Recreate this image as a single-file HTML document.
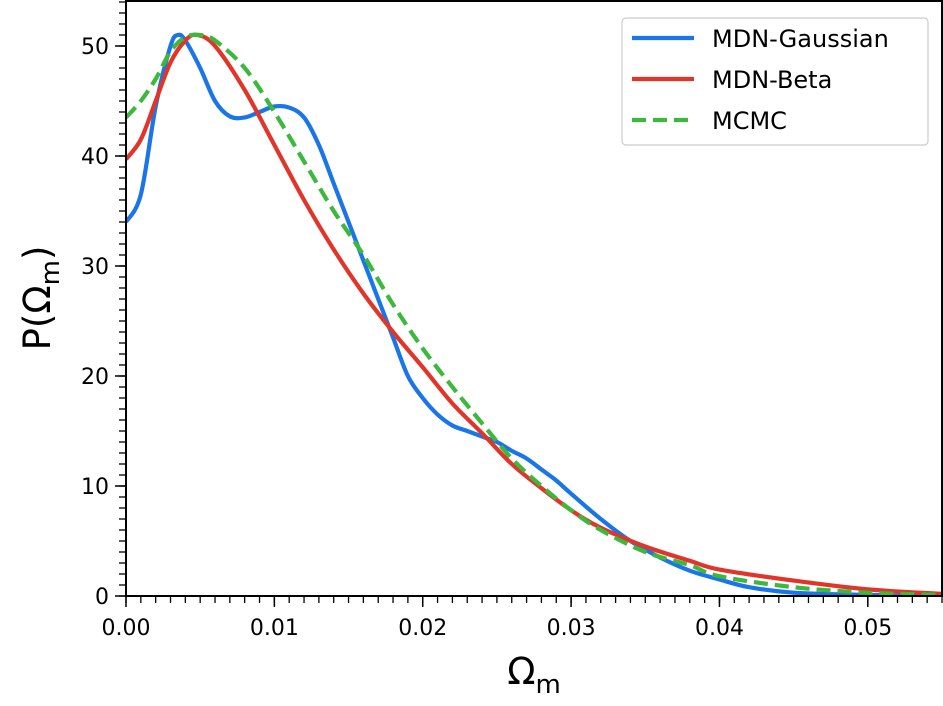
<!DOCTYPE html>
<html><head><meta charset="utf-8"><style>
html,body{margin:0;padding:0;background:#fff;}
svg{display:block;font-family:"DejaVu Sans","Liberation Sans",sans-serif;}
</style></head><body>
<svg id="chart" width="943" height="706"></svg>
<script>
const xGauss=[0,0.001,0.002,0.003,0.0035,0.004,0.005,0.006,0.007,0.008,0.009,0.010,0.011,0.012,0.013,0.014,0.015,0.016,0.017,0.018,0.019,0.020,0.021,0.022,0.023,0.024,0.025,0.026,0.027,0.028,0.029,0.030,0.032,0.034,0.036,0.038,0.040,0.042,0.045,0.050,0.055];
const yGauss=[34,36.5,44.5,50,51,50.5,48,45,43.6,43.5,44,44.5,44.4,43.5,41,37.5,34,30.5,27,23.5,20,18,16.5,15.5,15,14.5,14,13.2,12.5,11.5,10.5,9.3,7,5,3.5,2.3,1.5,0.8,0.3,0.1,0];
const xBeta=[0,0.001,0.002,0.003,0.004,0.0048,0.006,0.008,0.010,0.012,0.014,0.016,0.018,0.020,0.022,0.024,0.026,0.028,0.030,0.032,0.035,0.038,0.040,0.045,0.050,0.055];
const yBeta=[39.7,41.5,45,48.5,50.5,51,50,46,41,36,31.5,27.5,24,20.8,17.5,14.8,12,9.8,7.8,6.2,4.5,3.2,2.4,1.4,0.6,0.2];
const xMcmc=[0,0.001,0.002,0.003,0.004,0.005,0.006,0.008,0.010,0.012,0.014,0.016,0.018,0.020,0.022,0.024,0.026,0.028,0.030,0.032,0.035,0.038,0.040,0.045,0.050,0.055];
const yMcmc=[43.5,45,47,49.5,50.8,51,50.5,48,44,39.5,35,31,26.5,22.5,19,15.7,12.5,10,7.8,6,4,2.8,1.8,0.8,0.3,0.1];
const xTicks=[0,0.01,0.02,0.03,0.04,0.05];
const xTickLabels=["0.00","0.01","0.02","0.03","0.04","0.05"];
const yTicks=[0,10,20,30,40,50];
const yTickLabels=["0","10","20","30","40","50"];

const L=126,R=942,T=1,B=596,XMAX=0.055,YMAX=54.09;
const sx=v=>L+v/XMAX*(R-L);
const sy=v=>B-v/YMAX*(B-T);
const svg=document.getElementById('chart');
const NS='http://www.w3.org/2000/svg';
function mk(tag,attrs){const e=document.createElementNS(NS,tag);for(const k in attrs)e.setAttribute(k,attrs[k]);svg.appendChild(e);return e;}
function pathFor(xs,ys){
  const p=xs.map((x,i)=>[sx(x),sy(ys[i])]);
  let d='M'+p[0][0]+','+p[0][1];
  for(let i=0;i<p.length-1;i++){
    const p0=p[Math.max(0,i-1)],p1=p[i],p2=p[i+1],p3=p[Math.min(p.length-1,i+2)];
    const c1=[p1[0]+(p2[0]-p0[0])/6,p1[1]+(p2[1]-p0[1])/6];
    const c2=[p2[0]-(p3[0]-p1[0])/6,p2[1]-(p3[1]-p1[1])/6];
    d+=' C'+c1[0]+','+c1[1]+' '+c2[0]+','+c2[1]+' '+p2[0]+','+p2[1];
  }
  return d;
}
const defs=mk('defs',{});
const cp=document.createElementNS(NS,'clipPath');cp.setAttribute('id','clip');
const cr=document.createElementNS(NS,'rect');cr.setAttribute('x',L);cr.setAttribute('y',T);cr.setAttribute('width',R-L);cr.setAttribute('height',B-T);
cp.appendChild(cr);defs.appendChild(cp);

for(let v=0;v<=XMAX+1e-9;v+=0.001){const x=sx(v);const t=mk('line',{x1:x,x2:x,y1:B,y2:B+7,stroke:'#000','stroke-width':1.3});
}
for(let v=0;v<=54;v+=1){const y=sy(v);const t=mk('line',{x1:L-7,x2:L,y1:y,y2:y,stroke:'#000','stroke-width':1.3});
}
xTicks.forEach((v,i)=>{const x=sx(v);const t=mk('line',{x1:x,x2:x,y1:B,y2:B+11,stroke:'#000','stroke-width':1.5});

const tx=mk('text',{x:x,y:B+39,'text-anchor':'middle','font-size':22});tx.textContent=xTickLabels[i];
});
yTicks.forEach((v,i)=>{const y=sy(v);const t=mk('line',{x1:L-11,x2:L,y1:y,y2:y,stroke:'#000','stroke-width':1.5});

const tx=mk('text',{x:L-17,y:y+8,'text-anchor':'end','font-size':22});tx.textContent=yTickLabels[i];
});

const series=[[xGauss,yGauss,'#1a75e8',null,'series-mdn-gaussian'],[xBeta,yBeta,'#e2352a',null,'series-mdn-beta'],[xMcmc,yMcmc,'#3cb83c','14,7','series-mcmc']];
series.forEach(s=>{const a={d:pathFor(s[0],s[1]),fill:'none',stroke:s[2],'stroke-width':4.2,'clip-path':'url(#clip)'};if(s[3])a['stroke-dasharray']=s[3];
const p=mk('path',a);});

const frame=mk('rect',{x:L,y:T,width:R-L,height:B-T,fill:'none',stroke:'#000','stroke-width':2});


const lg=mk('rect',{x:622,y:18,width:306,height:127,rx:4,fill:'#fff',stroke:'#ccc','stroke-width':1.2});

const names=['MDN-Gaussian','MDN-Beta','MCMC'];
series.forEach((s,i)=>{const y=38+i*41;const a={x1:632,x2:694,y1:y,y2:y,stroke:s[2],'stroke-width':4.2};if(s[3])a['stroke-dasharray']=s[3];
const l=mk('line',a);
const t=mk('text',{x:712,y:y+9,'font-size':24});t.textContent=names[i];
});

const xl=mk('text',{x:534,y:684,'text-anchor':'middle','font-size':37});
xl.innerHTML='Ω<tspan font-size="26" dy="9">m</tspan>';

const yl=mk('text',{x:0,y:0,'text-anchor':'middle','font-size':37,transform:'translate(50,298) rotate(-90)'});
yl.innerHTML='P(Ω<tspan font-size="26" dy="9">m</tspan><tspan dy="-9">)</tspan>';

</script>
</body></html>
